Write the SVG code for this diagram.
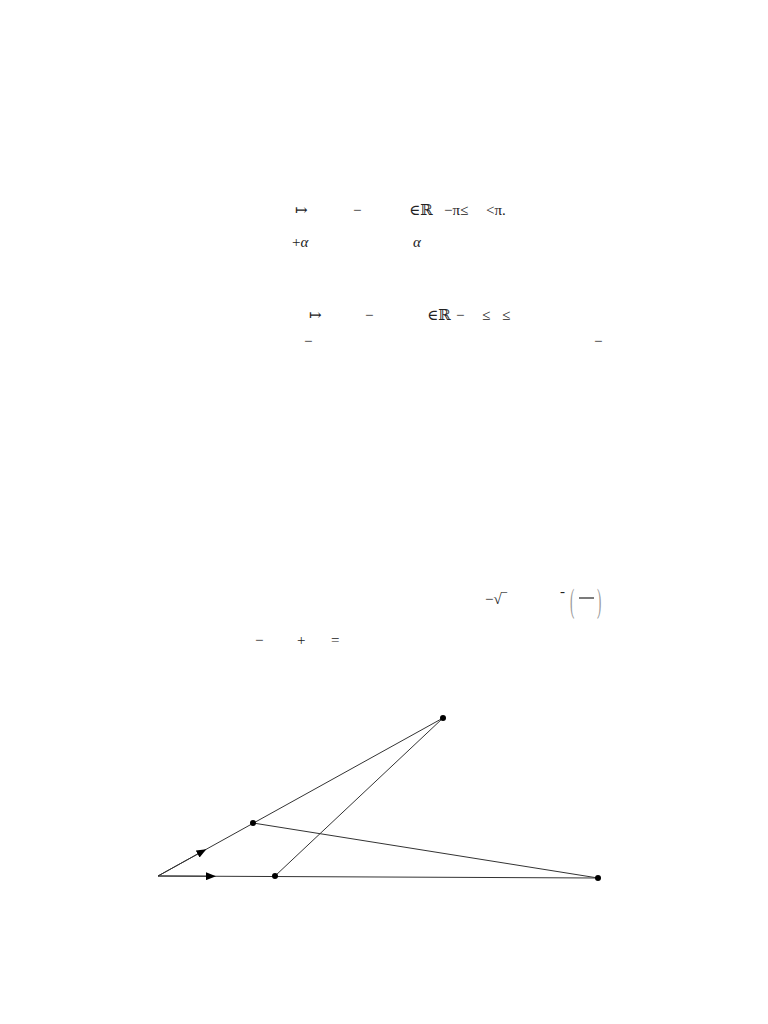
<svg xmlns="http://www.w3.org/2000/svg" width="768" height="1024" viewBox="0 0 768 1024">
<style>
text{font-family:"Liberation Serif","DejaVu Serif",serif;font-size:15px;fill:#222}
.ln{stroke:#333;stroke-width:1;fill:none}
.dot{fill:#000}
.par{fill:#999;font-size:13px}
</style>
<defs>
<marker id="ah" markerWidth="10" markerHeight="8" refX="5" refY="4" orient="auto" markerUnits="userSpaceOnUse">
<path d="M0,0 L10,4 L0,8 Z" fill="#000"/>
</marker>
</defs>
<rect width="768" height="1024" fill="#fff"/>
<g id="formulas">
<text x="295" y="215">↦</text>
<text x="353" y="215">−</text>
<text x="409" y="215">∈ℝ</text>
<text x="444" y="215">−π≤</text>
<text x="486" y="215">&lt;π.</text>
<text x="292" y="247">+<tspan font-style="italic">α</tspan></text>
<text x="413" y="247" font-style="italic">α</text>
<text x="309" y="320">↦</text>
<text x="365" y="320">−</text>
<text x="427" y="320">∈ℝ</text>
<text x="456" y="320">−</text>
<text x="482" y="320">≤</text>
<text x="502" y="320">≤</text>
<text x="304" y="346">−</text>
<text x="594" y="346">−</text>
<text x="485" y="604">−√‾</text>
<text x="560" y="596" font-size="10">-</text>
<text class="par" x="570" y="612" transform="translate(570,612) scale(1,2.6) translate(-570,-612)">(</text>
<text class="par" x="597" y="612" transform="translate(597,612) scale(1,2.6) translate(-597,-612)">)</text>
<line x1="579" y1="598" x2="594" y2="598" stroke="#222" stroke-width="1.2"/>
<text x="255" y="645">−</text>
<text x="297" y="645">+</text>
<text x="331" y="645">=</text>
</g>
<g id="connectors">
<line class="ln" x1="158" y1="876" x2="443" y2="718"/>
<line class="ln" x1="443" y1="718" x2="275" y2="876"/>
<line class="ln" x1="253" y1="823" x2="598" y2="878"/>
<line class="ln" x1="158" y1="876" x2="598" y2="878"/>
<path class="ln" d="M158,876 L202,851.6" marker-end="url(#ah)"/>
<path class="ln" d="M158,876 L211,876.2" marker-end="url(#ah)"/>
</g>
<g id="points">
<circle id="T" class="dot" cx="443" cy="718" r="3"/>
<circle id="P1" class="dot" cx="253" cy="823" r="3"/>
<circle id="B" class="dot" cx="275" cy="876" r="3"/>
<circle id="R" class="dot" cx="598" cy="878" r="3"/>
</g>
</svg>
